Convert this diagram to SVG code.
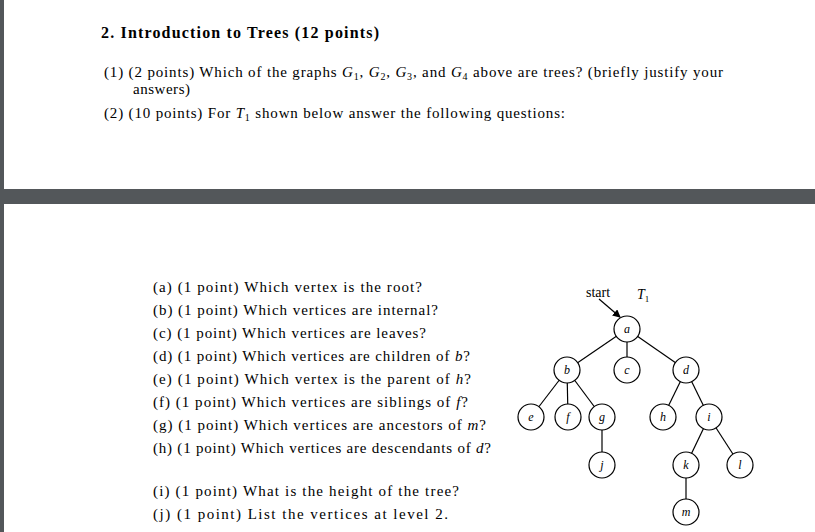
<svg xmlns="http://www.w3.org/2000/svg" width="815" height="532" viewBox="0 0 815 532">
<style>
text{font-family:"Liberation Serif",serif;fill:#000}
.q{font-size:15px}
.n circle{fill:#fff;stroke:#000;stroke-width:1.2}
.n text{font-size:12px;font-style:italic;text-anchor:middle}
.e line{stroke:#000;stroke-width:1.2}
</style>
<defs><marker id="ah" markerWidth="8" markerHeight="8" refX="7" refY="4" orient="auto" markerUnits="userSpaceOnUse"><path d="M0,0L8,4L0,8z" fill="#000"/></marker></defs>
<rect width="815" height="532" fill="#53575a"/>
<rect x="4" y="0" width="811" height="189" fill="#fff"/>
<rect x="4" y="204" width="811" height="328" fill="#fff"/>
<text x="101" y="38" font-size="16" font-weight="bold" textLength="278" lengthAdjust="spacing">2. Introduction to Trees (12 points)</text>
<text class="q" x="104" y="77" textLength="619" lengthAdjust="spacing">(1) (2 points) Which of the graphs <tspan font-style="italic">G</tspan><tspan font-size="10" dy="3">1</tspan><tspan dy="-3">, </tspan><tspan font-style="italic">G</tspan><tspan font-size="10" dy="3">2</tspan><tspan dy="-3">, </tspan><tspan font-style="italic">G</tspan><tspan font-size="10" dy="3">3</tspan><tspan dy="-3">, and </tspan><tspan font-style="italic">G</tspan><tspan font-size="10" dy="3">4</tspan><tspan dy="-3"> above are trees? (briefly justify your</tspan></text>
<text class="q" x="133" y="94" textLength="57" lengthAdjust="spacing">answers)</text>
<text class="q" x="104" y="118" textLength="461" lengthAdjust="spacing">(2) (10 points) For <tspan font-style="italic">T</tspan><tspan font-size="10" dy="3">1</tspan><tspan dy="-3"> shown below answer the following questions:</tspan></text>
<g>
<text class="q" x="153" y="292" textLength="269" lengthAdjust="spacing">(a) (1 point) Which vertex is the root?</text>
<text class="q" x="153" y="315" textLength="285" lengthAdjust="spacing">(b) (1 point) Which vertices are internal?</text>
<text class="q" x="153" y="338" textLength="273" lengthAdjust="spacing">(c) (1 point) Which vertices are leaves?</text>
<text class="q" x="153" y="361" textLength="317" lengthAdjust="spacing">(d) (1 point) Which vertices are children of <tspan font-style="italic">b</tspan>?</text>
<text class="q" x="153" y="384" textLength="318" lengthAdjust="spacing">(e) (1 point) Which vertex is the parent of <tspan font-style="italic">h</tspan>?</text>
<text class="q" x="153" y="407" textLength="315" lengthAdjust="spacing">(f) (1 point) Which vertices are siblings of <tspan font-style="italic">f</tspan>?</text>
<text class="q" x="153" y="430" textLength="333" lengthAdjust="spacing">(g) (1 point) Which vertices are ancestors of <tspan font-style="italic">m</tspan>?</text>
<text class="q" x="153" y="453" textLength="338" lengthAdjust="spacing">(h) (1 point) Which vertices are descendants of <tspan font-style="italic">d</tspan>?</text>
<text class="q" x="153" y="496" textLength="306" lengthAdjust="spacing">(i) (1 point) What is the height of the tree?</text>
<text class="q" x="153" y="519" textLength="295" lengthAdjust="spacing">(j) (1 point) List the vertices at level 2.</text>
</g>
<text x="586" y="297" font-size="14">start</text>
<text x="637" y="299" font-size="14" font-style="italic">T<tspan font-size="9" dy="3" font-style="normal">1</tspan></text>
<g class="e" id="connectors">
<line x1="599" y1="299" x2="620" y2="317" marker-end="url(#ah)"/>
<line x1="627" y1="329" x2="567" y2="370"/>
<line x1="627" y1="329" x2="627" y2="370"/>
<line x1="627" y1="329" x2="686" y2="370"/>
<line x1="567" y1="370" x2="531" y2="417"/>
<line x1="567" y1="370" x2="568" y2="417"/>
<line x1="567" y1="370" x2="602" y2="417"/>
<line x1="602" y1="417" x2="602" y2="465"/>
<line x1="686" y1="370" x2="663" y2="417"/>
<line x1="686" y1="370" x2="709" y2="417"/>
<line x1="709" y1="417" x2="686" y2="465"/>
<line x1="709" y1="417" x2="740" y2="465"/>
<line x1="686" y1="465" x2="686" y2="512"/>
</g>
<g class="n" id="a"><circle cx="627" cy="329" r="13"/><text x="627" y="333">a</text></g>
<g class="n" id="b"><circle cx="567" cy="370" r="13"/><text x="567" y="374">b</text></g>
<g class="n" id="c"><circle cx="627" cy="370" r="13"/><text x="627" y="374">c</text></g>
<g class="n" id="d"><circle cx="686" cy="370" r="13"/><text x="686" y="374">d</text></g>
<g class="n" id="e"><circle cx="531" cy="417" r="13"/><text x="531" y="421">e</text></g>
<g class="n" id="f"><circle cx="568" cy="417" r="13"/><text x="568" y="421">f</text></g>
<g class="n" id="g"><circle cx="602" cy="417" r="13"/><text x="602" y="421">g</text></g>
<g class="n" id="h"><circle cx="663" cy="417" r="13"/><text x="663" y="421">h</text></g>
<g class="n" id="i"><circle cx="709" cy="417" r="13"/><text x="709" y="421">i</text></g>
<g class="n" id="j"><circle cx="602" cy="465" r="13"/><text x="602" y="469">j</text></g>
<g class="n" id="k"><circle cx="686" cy="465" r="13"/><text x="686" y="469">k</text></g>
<g class="n" id="l"><circle cx="740" cy="465" r="13"/><text x="740" y="469">l</text></g>
<g class="n" id="m"><circle cx="686" cy="512" r="13"/><text x="686" y="516">m</text></g>
</svg>
